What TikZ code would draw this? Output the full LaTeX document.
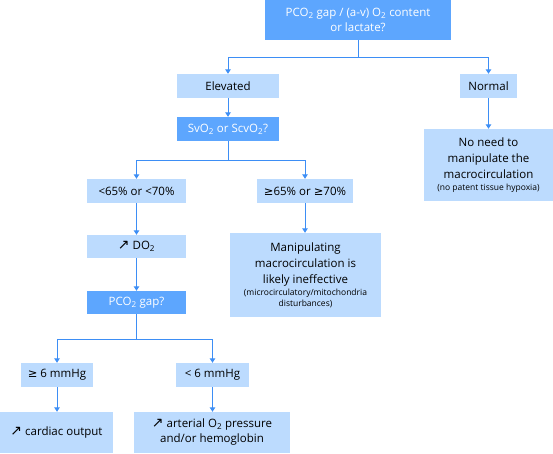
\documentclass[tikz,border=0pt]{standalone}
\usepackage{fontspec}
\setmainfont{Open Sans}
\newfontfamily\symf{DejaVu Sans}
\usetikzlibrary{arrows.meta}
\definecolor{darkbox}{HTML}{5DA6FE}
\definecolor{lightbox}{HTML}{BCDBFE}
\definecolor{conn}{HTML}{3D8EF5}
\newcommand{\myuparr}{{\symf\fontsize{14}{14}\selectfont\char"2197}}
\newcommand{\mygeq}{{\symf\char"2265}}
\tikzset{
  box/.style={fill=lightbox, draw=none, inner sep=2pt, align=center, font=\fontsize{11.5}{16}\selectfont, text=black},
  qbox/.style={box, fill=darkbox, text=white},
  conline/.style={draw=conn, line width=1pt},
  arr/.style={conline, -{Triangle[width=5.5pt,length=4.5pt]}}
}
\newcommand{\smalltext}[1]{{\fontsize{8.5}{11}\selectfont #1}}
\begin{document}
\begin{tikzpicture}[x=1pt,y=-1pt]
\useasboundingbox (0,0) rectangle (553,453);
\node[qbox, minimum width=186pt, minimum height=40pt, font=\fontsize{11.5}{15}\selectfont] (top) at (358,20) {PCO\textsubscript{2} gap / (a-v) O\textsubscript{2} content\\or lactate?};
\node[box, minimum width=102pt, minimum height=24pt] (elev) at (228,86) {Elevated};
\node[qbox, minimum width=102pt, minimum height=24pt] (svo) at (228,129) {SvO\textsubscript{2} or ScvO\textsubscript{2}?};
\node[box, minimum width=57pt, minimum height=24pt] (normal) at (488.5,86) {Normal};
\node[box, minimum width=129pt, minimum height=72pt] (noneed) at (488.5,165) {No need to\\manipulate the\\macrocirculation\\[-4pt]\smalltext{(no patent tissue hypoxia)}};
\node[box, minimum width=99pt, minimum height=24pt] (lt65) at (136.5,191) {<65\% or <70\%};
\node[box, minimum width=96pt, minimum height=24pt] (ge65) at (305,191) {\mygeq65\% or \mygeq70\%};
\node[box, minimum width=99pt, minimum height=23pt] (do2) at (136.5,246.5) {\myuparr{} DO\textsubscript{2}};
\node[box, minimum width=151pt, minimum height=84pt] (manip) at (305.5,275) {Manipulating\\macrocirculation is\\likely ineffective\\[-4pt]\smalltext{(microcirculatory/mitochondria}\\[-5pt]\smalltext{disturbances)}};
\node[qbox, minimum width=99pt, minimum height=23pt] (pgap) at (136.5,302.5) {PCO\textsubscript{2} gap?};
\node[box, minimum width=72pt, minimum height=24pt] (ge6) at (57,375) {\mygeq{} 6 mmHg};
\node[box, minimum width=73pt, minimum height=24pt] (lt6) at (212.5,375) {< 6 mmHg};
\node[box, minimum width=113pt, minimum height=41pt] (cardiac) at (56.5,432.5) {\myuparr{} cardiac output};
\node[box, minimum width=156pt, minimum height=41pt, font=\fontsize{11.5}{15}\selectfont] (arterial) at (212,432.5) {\myuparr{} arterial O\textsubscript{2} pressure\\and/or hemoglobin};
\coordinate (j1) at (358,57);
\coordinate (j2) at (228,160);
\coordinate (j3) at (136.5,339);
\draw[conline] (top.south) -- (j1);
\draw[arr] (j1) -| (elev.north);
\draw[arr] (j1) -| (normal.north);
\draw[arr] (elev) -- (svo);
\draw[arr] (normal) -- (noneed);
\draw[conline] (svo.south) -- (j2);
\draw[arr] (j2) -| (lt65.north);
\draw[arr] (j2) -| (ge65.north);
\draw[arr] (lt65) -- (do2);
\draw[arr] (ge65.south) -- (ge65.south |- manip.north);
\draw[arr] (do2) -- (pgap);
\draw[conline] (pgap.south) -- (j3);
\draw[arr] (j3) -| (ge6.north);
\draw[arr] (j3) -| (lt6.north);
\draw[arr] (ge6.south) -- (ge6.south |- cardiac.north);
\draw[arr] (lt6.south) -- (lt6.south |- arterial.north);
\end{tikzpicture}
\end{document}
